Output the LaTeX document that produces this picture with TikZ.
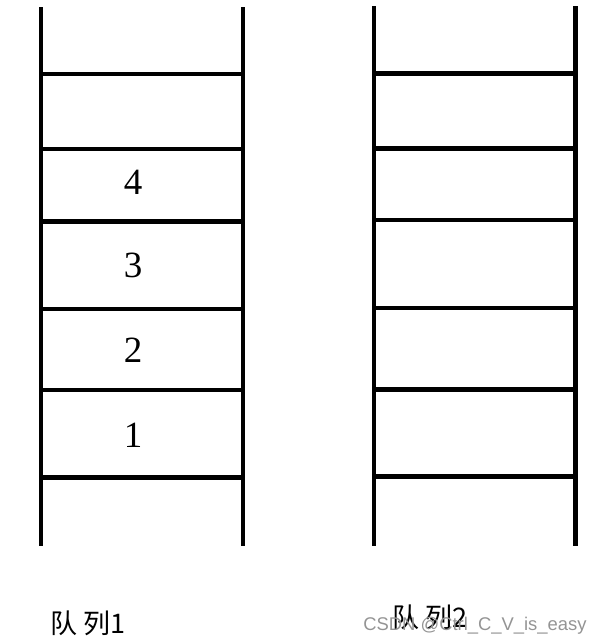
\documentclass[tikz,border=0pt]{standalone}
\usepackage{fontspec}
\setmainfont{Liberation Serif}
\newfontfamily\cjk{Noto Sans CJK SC}
\newfontfamily\wmfont{Liberation Sans}

\begin{document}
\begin{tikzpicture}[x=0.5pt,y=-0.5pt,line width=2.3pt,
  num/.style={font=\fontsize{18.5}{22}\selectfont},
  qname/.style={font=\fontsize{13.5}{16}\selectfont\cjk},
  wm/.style={font=\fontsize{9.2}{11}\selectfont\wmfont,text=black!42}]
\useasboundingbox (0,0) rectangle (600,644);
% queue 1
\draw (41,7) -- (41,546) (243,7) -- (243,546);
\draw (41,74) -- (243,74) (41,149) -- (243,149) (41,221.5) -- (243,221.5)
      (41,309) -- (243,309) (41,390) -- (243,390) (41,477.5) -- (243,477.5);
\node[num] (n4) at (133,182) {4};
\node[num] (n3) at (133,265) {3};
\node[num] (n2) at (133,350) {2};
\node[num] (n1) at (133,435) {1};
% queue 2
\draw (374,6) -- (374,546) (575.5,6) -- (575.5,546);
\draw (374,73.5) -- (575.5,73.5) (374,148.5) -- (575.5,148.5) (374,220) -- (575.5,220)
      (374,308) -- (575.5,308) (374,389.5) -- (575.5,389.5) (374,476.5) -- (575.5,476.5);
\path (88,623) node[qname] (q1) {队\hspace{0.25em}列1}
      (430,617) node[qname] (q2) {队\hspace{0.25em}列2}
      (475,626) node[wm] (mark) {CSDN @Ctrl\_C\_V\_is\_easy};
\end{tikzpicture}
\end{document}
